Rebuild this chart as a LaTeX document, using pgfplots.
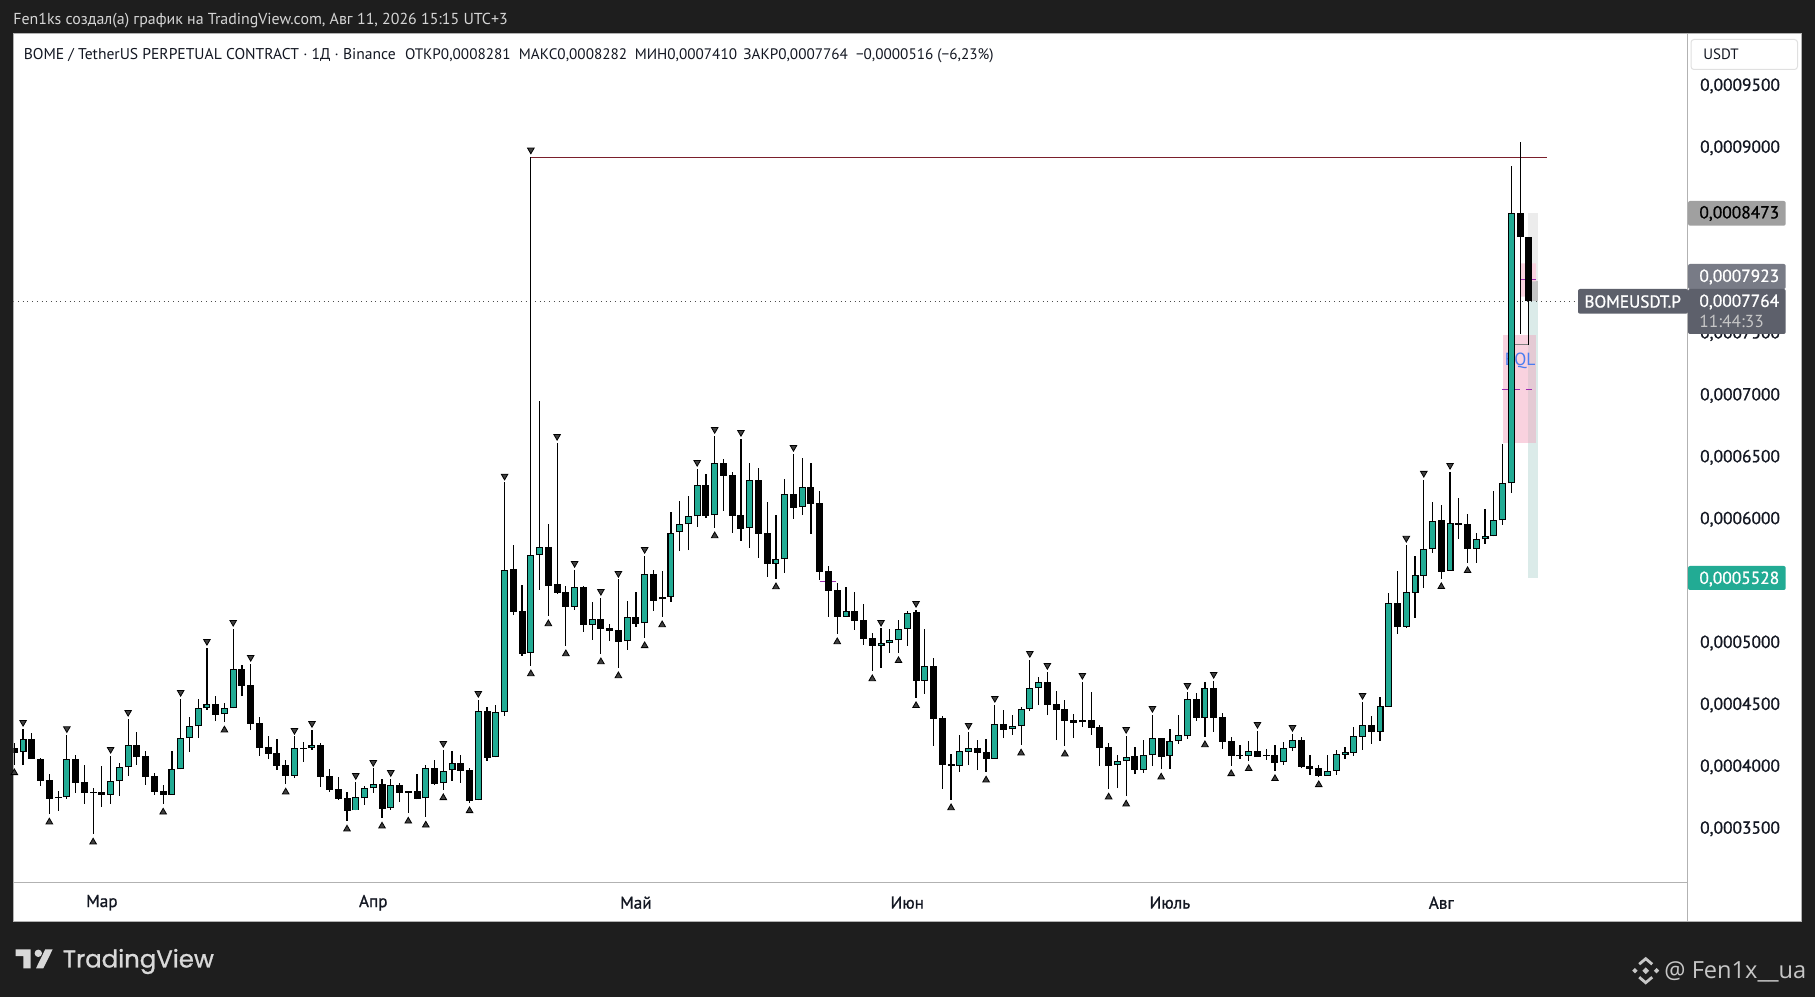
\documentclass[border=0pt]{standalone}
\usepackage{fontspec}
\setmainfont{PT Sans}
\newfontfamily\tickfont[FakeBold=1.0]{PT Sans}
\newfontfamily\logofont[FakeBold=0.9]{Poppins}
\newfontfamily\wmfont{Open Sans}
\usepackage{pgfplots}
\usepackage{pgfplotstable}
\pgfplotsset{compat=1.18}
\definecolor{pane}{HTML}{1E1E1E}
\definecolor{teal1}{HTML}{22AB94}
\definecolor{tealbg}{HTML}{DBEBE9}
\definecolor{pink1}{HTML}{F9D2DF}
\definecolor{hatch}{HTML}{E4CAD4}
\definecolor{lgray}{HTML}{ECECEC}
\definecolor{mgray}{HTML}{C4C4C4}
\definecolor{purp}{HTML}{9C27B0}
\definecolor{redl}{HTML}{7A1F2B}
\definecolor{frame}{HTML}{B2B2B2}
\definecolor{inkc}{HTML}{131722}
\definecolor{lab1}{HTML}{787B86}
\definecolor{lab2}{HTML}{5D606B}
\definecolor{lab3}{HTML}{A0A0A0}
\definecolor{mk}{HTML}{404040}
\definecolor{eql}{HTML}{4A7DF0}
\pgfplotstableread{
x o h l c
1 0.0004119 0.0004308 0.0004017 0.0004224
6 0.0003756 0.0004259 0.0003745 0.0004063
11 0.0003777 0.0004090 0.0003705 0.0003885
12 0.0003885 0.0004030 0.0003769 0.0003998
13 0.0003998 0.0004389 0.0003931 0.0004176
18 0.0003777 0.0004130 0.0003777 0.0003982
19 0.0003982 0.0004550 0.0003982 0.0004232
20 0.0004232 0.0004405 0.0004125 0.0004329
21 0.0004329 0.0004550 0.0004238 0.0004475
22 0.0004475 0.0004962 0.0004464 0.0004507
24 0.0004426 0.0004518 0.0004364 0.0004475
25 0.0004475 0.0005116 0.0004475 0.0004790
32 0.0003931 0.0004251 0.0003915 0.0004152
34 0.0004151 0.0004299 0.0004141 0.0004176
39 0.0003650 0.0003879 0.0003650 0.0003755
40 0.0003747 0.0003844 0.0003696 0.0003828
41 0.0003828 0.0003992 0.0003793 0.0003860
43 0.0003667 0.0003904 0.0003656 0.0003852
47 0.0003747 0.0004017 0.0003599 0.0003990
49 0.0003869 0.0004138 0.0003817 0.0003965
50 0.0003974 0.0004130 0.0003890 0.0004030
53 0.0003731 0.0004539 0.0003731 0.0004450
55 0.0004079 0.0004501 0.0004079 0.0004442
56 0.0004442 0.0006303 0.0004415 0.0005595
59 0.0004919 0.0008926 0.0004819 0.0005710
60 0.0005710 0.0006957 0.0005433 0.0005775
64 0.0005296 0.0005592 0.0005272 0.0005452
66 0.0005150 0.0005333 0.0005029 0.0005193
70 0.0005016 0.0005342 0.0004948 0.0005210
72 0.0005161 0.0005705 0.0005045 0.0005557
74 0.0005355 0.0005584 0.0005215 0.0005371
75 0.0005371 0.0006061 0.0005336 0.0005894
76 0.0005896 0.0006149 0.0005745 0.0005961
77 0.0005961 0.0006190 0.0005754 0.0006026
78 0.0006026 0.0006408 0.0005942 0.0006276
80 0.0006034 0.0006675 0.0005934 0.0006454
84 0.0005929 0.0006456 0.0005772 0.0006316
87 0.0005643 0.0006036 0.0005522 0.0005678
88 0.0005679 0.0006328 0.0005571 0.0006204
90 0.0006099 0.0006497 0.0006037 0.0006260
95 0.0005215 0.0005455 0.0005215 0.0005258
99 0.0004981 0.0005124 0.0004803 0.0005000
100 0.0005000 0.0005116 0.0004925 0.0005024
101 0.0005024 0.0005188 0.0004925 0.0005113
102 0.0005118 0.0005261 0.0004981 0.0005242
104 0.0004698 0.0005116 0.0004593 0.0004814
108 0.0004012 0.0004260 0.0003963 0.0004128
109 0.0004125 0.0004284 0.0004017 0.0004152
112 0.0004068 0.0004502 0.0004068 0.0004346
114 0.0004305 0.0004421 0.0004260 0.0004330
115 0.0004330 0.0004483 0.0004179 0.0004467
116 0.0004467 0.0004865 0.0004453 0.0004637
117 0.0004637 0.0004728 0.0004502 0.0004685
122 0.0004362 0.0004688 0.0004324 0.0004378
126 0.0004015 0.0004098 0.0003831 0.0004047
127 0.0004047 0.0004251 0.0003767 0.0004079
129 0.0003979 0.0004219 0.0003955 0.0004095
130 0.0004095 0.0004421 0.0004009 0.0004233
132 0.0004087 0.0004308 0.0003985 0.0004208
133 0.0004208 0.0004421 0.0004190 0.0004257
134 0.0004249 0.0004607 0.0004230 0.0004548
136 0.0004400 0.0004688 0.0004246 0.0004637
141 0.0004093 0.0004211 0.0004052 0.0004128
145 0.0004039 0.0004203 0.0004020 0.0004152
146 0.0004157 0.0004268 0.0004133 0.0004216
150 0.0003931 0.0004098 0.0003931 0.0003966
151 0.0003971 0.0004138 0.0003939 0.0004103
152 0.0004101 0.0004163 0.0004068 0.0004119
153 0.0004117 0.0004324 0.0004093 0.0004249
154 0.0004246 0.0004526 0.0004141 0.0004338
156 0.0004286 0.0004567 0.0004214 0.0004491
157 0.0004488 0.0005407 0.0004488 0.0005323
159 0.0005135 0.0005795 0.0005127 0.0005412
160 0.0005410 0.0005706 0.0005208 0.0005550
161 0.0005547 0.0006320 0.0005447 0.0005760
162 0.0005760 0.0006142 0.0005733 0.0005986
164 0.0005587 0.0006384 0.0005587 0.0005970
167 0.0005765 0.0005892 0.0005652 0.0005840
168 0.0005840 0.0006086 0.0005805 0.0005865
169 0.0005865 0.0006231 0.0005865 0.0005994
170 0.0005994 0.0006611 0.0005959 0.0006293
171 0.0006293 0.0008856 0.0006218 0.0008473
}\upcandles
\pgfplotstableread{
x o h l c
0 0.0004154 0.0004197 0.0004017 0.0004117
2 0.0004224 0.0004276 0.0004068 0.0004068
3 0.0004063 0.0004071 0.0003850 0.0003890
4 0.0003893 0.0003944 0.0003621 0.0003745
5 0.0003761 0.0003804 0.0003648 0.0003751
7 0.0004063 0.0004098 0.0003794 0.0003874
8 0.0003877 0.0004017 0.0003705 0.0003794
9 0.0003801 0.0003829 0.0003462 0.0003791
10 0.0003796 0.0004009 0.0003680 0.0003777
14 0.0004176 0.0004284 0.0004020 0.0004084
15 0.0004087 0.0004130 0.0003858 0.0003923
16 0.0003925 0.0003950 0.0003777 0.0003802
17 0.0003804 0.0003855 0.0003705 0.0003777
23 0.0004507 0.0004574 0.0004372 0.0004424
26 0.0004790 0.0004822 0.0004574 0.0004658
27 0.0004661 0.0004833 0.0004300 0.0004351
28 0.0004354 0.0004405 0.0004092 0.0004157
29 0.0004160 0.0004251 0.0004065 0.0004109
30 0.0004111 0.0004227 0.0003979 0.0004012
31 0.0004014 0.0004057 0.0003864 0.0003931
33 0.0004156 0.0004202 0.0004044 0.0004146
35 0.0004176 0.0004192 0.0003842 0.0003922
36 0.0003925 0.0003984 0.0003801 0.0003817
37 0.0003820 0.0003920 0.0003737 0.0003745
38 0.0003747 0.0003798 0.0003567 0.0003648
42 0.0003860 0.0003904 0.0003591 0.0003664
44 0.0003852 0.0003871 0.0003720 0.0003793
45 0.0003804 0.0003804 0.0003632 0.0003793
46 0.0003804 0.0003944 0.0003739 0.0003745
48 0.0003990 0.0004057 0.0003858 0.0003863
51 0.0004030 0.0004097 0.0003874 0.0003971
52 0.0003974 0.0003992 0.0003712 0.0003729
54 0.0004450 0.0004485 0.0004052 0.0004076
57 0.0005597 0.0005794 0.0005228 0.0005255
58 0.0005258 0.0005471 0.0004900 0.0004916
61 0.0005775 0.0005964 0.0005223 0.0005465
62 0.0005476 0.0006615 0.0005401 0.0005409
63 0.0005412 0.0005463 0.0004981 0.0005296
65 0.0005452 0.0005463 0.0005094 0.0005150
67 0.0005193 0.0005366 0.0004916 0.0005118
68 0.0005123 0.0005156 0.0005021 0.0005102
69 0.0005105 0.0005519 0.0004803 0.0005013
71 0.0005210 0.0005414 0.0005134 0.0005158
73 0.0005557 0.0005592 0.0005263 0.0005344
79 0.0006276 0.0006368 0.0006015 0.0006031
81 0.0006454 0.0006489 0.0006071 0.0006354
82 0.0006357 0.0006381 0.0005894 0.0006031
83 0.0006034 0.0006650 0.0005829 0.0005926
85 0.0006316 0.0006416 0.0005692 0.0005886
86 0.0005888 0.0006141 0.0005538 0.0005643
89 0.0006204 0.0006530 0.0006007 0.0006096
91 0.0006260 0.0006457 0.0005886 0.0006128
92 0.0006131 0.0006231 0.0005512 0.0005579
93 0.0005582 0.0005625 0.0005215 0.0005425
94 0.0005428 0.0005487 0.0005078 0.0005215
96 0.0005258 0.0005415 0.0005110 0.0005183
97 0.0005186 0.0005318 0.0004989 0.0005038
98 0.0005040 0.0005083 0.0004779 0.0004981
103 0.0005251 0.0005269 0.0004561 0.0004698
105 0.0004814 0.0004879 0.0004173 0.0004391
106 0.0004394 0.0004410 0.0003826 0.0004020
107 0.0004025 0.0004106 0.0003737 0.0004012
110 0.0004152 0.0004219 0.0003977 0.0004117
111 0.0004120 0.0004227 0.0003961 0.0004068
113 0.0004346 0.0004462 0.0004235 0.0004303
118 0.0004685 0.0004769 0.0004421 0.0004505
119 0.0004507 0.0004615 0.0004219 0.0004464
120 0.0004467 0.0004542 0.0004171 0.0004375
121 0.0004378 0.0004429 0.0004235 0.0004359
123 0.0004378 0.0004607 0.0004260 0.0004319
124 0.0004321 0.0004340 0.0004009 0.0004157
125 0.0004160 0.0004195 0.0003823 0.0004012
128 0.0004087 0.0004163 0.0003944 0.0003979
131 0.0004233 0.0004233 0.0003985 0.0004084
135 0.0004548 0.0004599 0.0004375 0.0004400
137 0.0004637 0.0004696 0.0004286 0.0004400
138 0.0004402 0.0004437 0.0004149 0.0004206
139 0.0004208 0.0004243 0.0004012 0.0004093
140 0.0004098 0.0004179 0.0004068 0.0004088
142 0.0004128 0.0004292 0.0004084 0.0004084
143 0.0004100 0.0004146 0.0004058 0.0004090
144 0.0004095 0.0004179 0.0003971 0.0004036
147 0.0004216 0.0004243 0.0003993 0.0004004
148 0.0004006 0.0004098 0.0003939 0.0003988
149 0.0003990 0.0004017 0.0003923 0.0003931
155 0.0004338 0.0004413 0.0004189 0.0004286
158 0.0005323 0.0005585 0.0005078 0.0005135
163 0.0005994 0.0006118 0.0005523 0.0005579
165 0.0005972 0.0006174 0.0005846 0.0005959
166 0.0005964 0.0006045 0.0005652 0.0005765
172 0.0008473 0.0009047 0.0007499 0.0008281
173 0.0008281 0.0008282 0.0007410 0.0007764
}\downcandles
\begin{document}
\begin{tikzpicture}
\fill[pane] (0,0) rectangle (907.5pt,498.5pt);
\begin{scope}[x=0.5pt,y=-0.5pt,yshift=498.5pt]
\filldraw[fill=white,draw=frame,line width=0.5pt] (13.3,34) rectangle (1801.7,921.7);
\end{scope}
\begin{axis}[
  at={(6.65pt,57.35pt)},anchor=south west,
  scale only axis,width=837pt,height=424.15pt,
  xmin=-0.118,xmax=191.1,
  ymin=0.000307,ymax=0.0009922,
  axis x line*=bottom,axis y line*=right,
  axis line style={-,draw=frame,line width=0.5pt},
  major tick length=0pt,minor tick length=0pt,
  xtick={10,41,71,102,132,163},
  xticklabels={Мар,Апр,Май,Июн,Июль,Авг},
  xticklabel style={font=\tickfont\fontsize{8.6}{10}\selectfont,text=inkc,anchor=center,yshift=-10.2pt},
  ytick={0.00035,0.0004,0.00045,0.0005,0.00055,0.0006,0.00065,0.0007,0.00075,0.0008,0.00085,0.0009,0.00095},
  scaled y ticks=false,
  yticklabel style={font=\tickfont\fontsize{8.7}{10}\selectfont,text=inkc,anchor=west,xshift=2.9pt,yshift=0.15pt,
    /pgf/number format/.cd,fixed,fixed zerofill,precision=7,use comma,assume math mode=true},
]
% position and zone shading
\addplot[fill=tealbg,draw=none] coordinates {(172.9,0.0007764)(174.0,0.0007764)(174.0,0.0005528)(172.9,0.0005528)};
\addplot[fill=lgray,draw=none] coordinates {(172.9,0.0008473)(174.0,0.0008473)(174.0,0.0007923)(172.9,0.0007923)};
\addplot[fill=mgray,draw=none] coordinates {(172.9,0.0007923)(174.0,0.0007923)(174.0,0.0007764)(172.9,0.0007764)};
\addplot[fill=pink1,draw=none] coordinates {(170.05,0.0007491)(173.8,0.0007491)(173.8,0.0006616)(170.05,0.0006616)};
\addplot[fill=hatch,draw=none] coordinates {(172.9,0.0007491)(173.8,0.0007491)(173.8,0.0006616)(172.9,0.0006616)};
\addplot[fill=pink1,draw=none] coordinates {(172.1,0.0008070)(173.8,0.0008070)(173.8,0.0007923)(172.9,0.0007923)(172.9,0.0007801)(172.1,0.0007801)};
\addplot[draw=purp,line width=0.4pt,dashed] coordinates {(169.9,0.0007052)(174,0.0007052)};
\addplot[draw=purp,line width=0.4pt] coordinates {(172.1,0.0007941)(173.8,0.0007941)};
\addplot[draw=purp,line width=0.5pt] coordinates {(92,0.0005501)(93.9,0.0005501)};
\addplot[draw=black!70,line width=0.35pt,dotted] coordinates {(-0.118,0.0007764)(178.6,0.0007764)};
\addplot[draw=gray,line width=0.5pt] coordinates {(171.4,0.0007410)(173,0.0007410)};
\addplot[draw=redl,line width=0.6pt] coordinates {(59,0.0008926)(175.05,0.0008926)};
\node[text=eql,font=\fontsize{8.8}{10}\selectfont,inner sep=0pt] at (axis cs:172.0,0.0007282) {EQL};
% wicks
\addplot[draw=none,mark=none,error bars/.cd,y dir=plus,y explicit,error mark=none,error bar style={draw=black,line width=0.6pt}]
  table[x=x,y=l,y error plus expr={\thisrow{h}-\thisrow{l}}] {\upcandles};
\addplot[draw=none,mark=none,error bars/.cd,y dir=plus,y explicit,error mark=none,error bar style={draw=black,line width=0.6pt}]
  table[x=x,y=l,y error plus expr={\thisrow{h}-\thisrow{l}}] {\downcandles};
% bodies
\addplot[draw=none,mark=none,error bars/.cd,y dir=plus,y explicit,error mark=none,error bar style={draw=black,line width=3.5pt}]
  table[x=x,y=c,y error plus expr={\thisrow{o}-\thisrow{c}}] {\downcandles};
\addplot[draw=none,mark=none,error bars/.cd,y dir=plus,y explicit,error mark=none,error bar style={draw=black,line width=3.5pt}]
  table[x=x,y=o,y error plus expr={\thisrow{c}-\thisrow{o}}] {\upcandles};
\addplot[draw=none,mark=none,error bars/.cd,y dir=plus,y explicit,error mark=none,error bar style={draw=teal1,line width=2.4pt}]
  table[x=x,y expr={\thisrow{o}+0.0000008},y error plus expr={max(\thisrow{c}-\thisrow{o}-0.0000016,0)}] {\upcandles};
% pivot markers
\addplot[only marks,mark=triangle*,mark size=1.9pt,mark options={fill=mk,draw=none,rotate=180}] coordinates {
(1,0.0004362)(6,0.0004311)(11,0.0004144)(13,0.0004443)(19,0.0004604)(22,0.0005016)(25,0.0005170)(27,0.0004887)(32,0.0004297)
(34,0.0004353)(39,0.0003933)(41,0.0004038)(43,0.0003957)(49,0.0004192)(53,0.0004596)(56,0.0006351)(59,0.0008985)(62,0.0006672)
(64,0.0005646)(67,0.0005420)(69,0.0005565)(72,0.0005759)(78,0.0006462)(80,0.0006728)(83,0.0006704)(89,0.0006583)(99,0.0005170)
(103,0.0005323)(109,0.0004338)(112,0.0004556)(116,0.0004919)(118,0.0004822)(122,0.0004742)(127,0.0004305)(130,0.0004475)
(134,0.0004661)(137,0.0004750)(142,0.0004346)(146,0.0004321)(154,0.0004580)(159,0.0005849)(161,0.0006374)(164,0.0006438)};
\addplot[only marks,mark=triangle*,mark size=1.9pt,mark options={fill=mk,draw=none}] coordinates {
(0,0.0003955)(4,0.0003557)(9,0.0003395)(17,0.0003637)(24,0.0004300)(31,0.0003799)(38,0.0003500)(42,0.0003524)(45,0.0003564)
(47,0.0003532)(49,0.0003753)(52,0.0003648)(59,0.0004754)(61,0.0005158)(63,0.0004916)(67,0.0004851)(69,0.0004738)(72,0.0004981)
(74,0.0005150)(80,0.0005869)(87,0.0005457)(94,0.0005013)(98,0.0004714)(101,0.0004860)(103,0.0004497)(107,0.0003672)(111,0.0003896)
(115,0.0004114)(120,0.0004106)(125,0.0003759)(127,0.0003702)(131,0.0003920)(136,0.0004181)(139,0.0003947)(141,0.0003988)
(144,0.0003907)(149,0.0003858)(163,0.0005458)(166,0.0005587)};
\end{axis}
\begin{scope}[x=0.5pt,y=-0.5pt,yshift=498.5pt]
\draw[frame,line width=0.5pt] (1687.3,882) -- (1687.3,921.7);
% header
\node[anchor=west,inner sep=0pt,text=white!84!black,font=\fontsize{7.95}{9}\selectfont] at (13,20.5) {Fen1ks создал(а) график на TradingView.com, Авг 11, 2026 15:15 UTC+3};
\begin{scope}[every node/.style={anchor=west,inner sep=0pt,text=inkc,font=\fontsize{7.6}{9}\selectfont}]
\node[font=\fontsize{7.8}{9}\selectfont] at (23.4,55.5) {BOME / TetherUS PERPETUAL CONTRACT · 1Д · Binance};
\node at (404.7,55.5) {ОТКР0,0008281};
\node at (518.5,55.5) {МАКС0,0008282};
\node at (634.4,55.5) {МИН0,0007410};
\node at (743,55.5) {ЗАКР0,0007764};
\node at (855.6,55.5) {−0,0000516 (−6,23\%)};
\end{scope}
% currency box
\draw[draw=black!12,fill=white,rounded corners=1.5pt,line width=0.5pt] (1691,39.5) rectangle (1797.5,69.5);
\node[anchor=west,inner sep=0pt,text=inkc,font=\fontsize{7.5}{9}\selectfont] at (1703,54.5) {USDT};
% price labels
\fill[lab3,rounded corners=1pt] (1688,201) rectangle (1785.7,225.7);
\node[anchor=west,inner sep=0pt,text=black,font=\tickfont\fontsize{8.7}{10}\selectfont] at (1699,213.5) {0,0008473};
\fill[lab1,rounded corners=1pt] (1688,264) rectangle (1785.7,289);
\node[anchor=west,inner sep=0pt,text=white,font=\tickfont\fontsize{8.7}{10}\selectfont] at (1699,277) {0,0007923};
\fill[lab2,rounded corners=1pt] (1688,289) rectangle (1785.7,334);
\node[anchor=west,inner sep=0pt,text=white,font=\tickfont\fontsize{8.7}{10}\selectfont] at (1699,302) {0,0007764};
\node[anchor=west,inner sep=0pt,text=white!78!black,font=\fontsize{8.7}{10}\selectfont] at (1699,321) {11:44:33};
\fill[lab2,rounded corners=1pt] (1578,289) rectangle (1688,313.7);
\node[anchor=west,inner sep=0pt,text=white,font=\tickfont\fontsize{8.6}{10}\selectfont] at (1584,301.5) {BOMEUSDT.P};
\fill[teal1,rounded corners=1pt] (1688,566) rectangle (1785.7,590);
\node[anchor=west,inner sep=0pt,text=white,font=\tickfont\fontsize{8.7}{10}\selectfont] at (1699,579) {0,0005528};
% TradingView logo
\fill[white!85!black] (15.7,949.3) -- (30.7,949.3) -- (30.7,968.3) -- (23.3,968.3) -- (23.3,956) -- (15.7,956) -- cycle;
\fill[white!85!black] (38.3,953.3) circle (3.7);
\fill[white!85!black] (45.3,949.3) -- (52.7,949.3) -- (43.3,968.3) -- (36,968.3) -- cycle;
\node[anchor=west,inner sep=0pt,text=white!85!black,font=\logofont\fontsize{12.2}{14}\selectfont] at (62.5,961.5) {TradingView};
% watermark
\begin{scope}[shift={(1645.7,970.7)}]
\fill[white!78!black] (0,-3.4) -- (3.4,0) -- (0,3.4) -- (-3.4,0) -- cycle;
\fill[white!78!black] (-13.5,0) -- (-10.8,-2.7) -- (-8.1,0) -- (-10.8,2.7) -- cycle;
\fill[white!78!black] (13.5,0) -- (10.8,-2.7) -- (8.1,0) -- (10.8,2.7) -- cycle;
\draw[white!78!black,line width=1.4pt] (-6.5,-6.5) -- (0,-12) -- (6.5,-6.5);
\draw[white!78!black,line width=1.4pt] (-6.5,6.5) -- (0,12) -- (6.5,6.5);
\end{scope}
\node[anchor=west,inner sep=0pt,text=white!78!black,font=\wmfont\fontsize{11.8}{13}\selectfont] at (1664,972) {@ Fen1x\_\_ua};
\end{scope}
\end{tikzpicture}
\end{document}
